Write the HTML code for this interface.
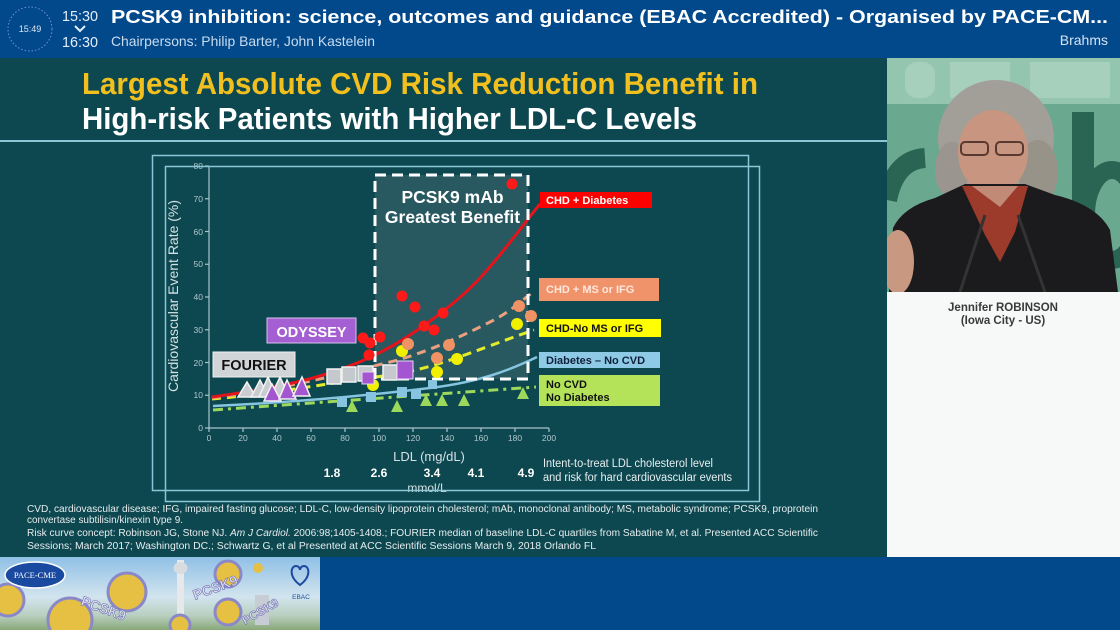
<!DOCTYPE html>
<html><head><meta charset="utf-8"><style>
html,body{margin:0;padding:0;background:#02498c;}
body{width:1120px;height:630px;overflow:hidden;}
svg{display:block;font-family:"Liberation Sans",Arial,sans-serif;}
</style></head><body>
<svg width="1120" height="630" viewBox="0 0 1120 630" xmlns="http://www.w3.org/2000/svg">
<defs>
<linearGradient id="sky" x1="0" y1="0" x2="0" y2="1">
<stop offset="0" stop-color="#8fc0e6"/><stop offset="0.55" stop-color="#d2e4ee"/><stop offset="0.8" stop-color="#b9cfc0"/><stop offset="1" stop-color="#88a878"/>
</linearGradient>
<clipPath id="vid"><rect x="887" y="58" width="233" height="234"/></clipPath>
<clipPath id="ban"><rect x="0" y="557" width="320" height="73"/></clipPath>
</defs>

<!-- bars -->
<rect x="0" y="0" width="1120" height="58" fill="#02498c"/>
<rect x="0" y="557" width="1120" height="73" fill="#02498c"/>
<!-- slide -->
<rect x="0" y="58" width="887" height="499" fill="#0d4850"/>

<!-- top bar content -->
<circle cx="30" cy="29" r="22" fill="none" stroke="#6f95c8" stroke-width="1" stroke-dasharray="1.5,2"/>
<text x="30" y="32" font-size="9" fill="#dbe6f3" text-anchor="middle">15:49</text>
<text x="62" y="21" font-size="15" fill="#e4eef8" textLength="36" lengthAdjust="spacingAndGlyphs">15:30</text>
<polyline points="75,26 80,31 85,26" fill="none" stroke="#e4eef8" stroke-width="2"/>
<text x="62" y="47" font-size="15" fill="#e4eef8" textLength="36" lengthAdjust="spacingAndGlyphs">16:30</text>
<text x="111" y="23" font-size="18" font-weight="bold" fill="#ffffff" textLength="997" lengthAdjust="spacingAndGlyphs">PCSK9 inhibition: science, outcomes and guidance (EBAC Accredited) - Organised by PACE-CM...</text>
<text x="111" y="46" font-size="14" fill="#c9dbef" textLength="264" lengthAdjust="spacingAndGlyphs">Chairpersons: Philip Barter, John Kastelein</text>
<text x="1108" y="45" font-size="14" fill="#d6e2f0" text-anchor="end">Brahms</text>

<!-- slide title -->
<text x="82" y="94" font-size="31" font-weight="bold" fill="#f2c01e" textLength="676" lengthAdjust="spacingAndGlyphs">Largest Absolute CVD Risk Reduction Benefit in</text>
<text x="82" y="129" font-size="31" font-weight="bold" fill="#ffffff" textLength="615" lengthAdjust="spacingAndGlyphs">High-risk Patients with Higher LDL-C Levels</text>
<rect x="0" y="140" width="887" height="2" fill="#8ec6d6"/>

<!-- dashed benefit box fill -->
<rect x="375" y="175" width="153" height="204" fill="#285860"/>

<!-- axes -->
<g stroke="#a9c3cb" stroke-width="1.2">
<line x1="209" y1="166" x2="209" y2="428"/>
<line x1="209" y1="428" x2="549" y2="428"/>
<line x1="205" y1="166" x2="209" y2="166"/><line x1="205" y1="198.75" x2="209" y2="198.75"/><line x1="205" y1="231.5" x2="209" y2="231.5"/><line x1="205" y1="264.25" x2="209" y2="264.25"/><line x1="205" y1="297" x2="209" y2="297"/><line x1="205" y1="329.75" x2="209" y2="329.75"/><line x1="205" y1="362.5" x2="209" y2="362.5"/><line x1="205" y1="395.25" x2="209" y2="395.25"/><line x1="205" y1="428" x2="209" y2="428"/>
<line x1="209" y1="428" x2="209" y2="432"/><line x1="243" y1="428" x2="243" y2="432"/><line x1="277" y1="428" x2="277" y2="432"/><line x1="311" y1="428" x2="311" y2="432"/><line x1="345" y1="428" x2="345" y2="432"/><line x1="379" y1="428" x2="379" y2="432"/><line x1="413" y1="428" x2="413" y2="432"/><line x1="447" y1="428" x2="447" y2="432"/><line x1="481" y1="428" x2="481" y2="432"/><line x1="515" y1="428" x2="515" y2="432"/><line x1="549" y1="428" x2="549" y2="432"/>
</g>
<g font-size="8.5" fill="#b3c6cc" text-anchor="end">
<text x="203" y="169">80</text><text x="203" y="202">70</text><text x="203" y="235">60</text><text x="203" y="267">50</text><text x="203" y="300">40</text><text x="203" y="333">30</text><text x="203" y="366">20</text><text x="203" y="398">10</text><text x="203" y="431">0</text>
</g>
<g font-size="8.5" fill="#b3c6cc" text-anchor="middle">
<text x="209" y="441">0</text><text x="243" y="441">20</text><text x="277" y="441">40</text><text x="311" y="441">60</text><text x="345" y="441">80</text><text x="379" y="441">100</text><text x="413" y="441">120</text><text x="447" y="441">140</text><text x="481" y="441">160</text><text x="515" y="441">180</text><text x="549" y="441">200</text>
</g>
<text transform="translate(178,296) rotate(-90)" font-size="14" fill="#d4e0e3" text-anchor="middle" textLength="192" lengthAdjust="spacingAndGlyphs">Cardiovascular Event Rate (%)</text>
<text x="429" y="461" font-size="13" fill="#d4e0e3" text-anchor="middle">LDL (mg/dL)</text>
<g font-size="12" font-weight="bold" fill="#ffffff" text-anchor="middle">
<text x="332" y="477">1.8</text><text x="379" y="477">2.6</text><text x="432" y="477">3.4</text><text x="476" y="477">4.1</text><text x="526" y="477">4.9</text>
</g>
<text x="427" y="492" font-size="12" fill="#d4e0e3" text-anchor="middle">mmol/L</text>
<text x="543" y="467" font-size="11.5" fill="#e6eef0" textLength="170" lengthAdjust="spacingAndGlyphs">Intent-to-treat LDL cholesterol level</text>
<text x="543" y="481" font-size="11.5" fill="#e6eef0" textLength="189" lengthAdjust="spacingAndGlyphs">and risk for hard cardiovascular events</text>

<!-- outer frames -->
<rect x="152.5" y="155.5" width="596" height="335" fill="none" stroke="#8cc6d6" stroke-width="1.5"/>
<rect x="165.5" y="166.5" width="594" height="335" fill="none" stroke="#8cc6d6" stroke-width="1.5"/>

<!-- curves -->
<path d="M213,410 L536,387" fill="none" stroke="#9cd85c" stroke-width="3" stroke-dasharray="10,5,3,5"/>
<path d="M213,406 C300,402 380,394 430,388 S510,370 537,357" fill="none" stroke="#86c4e0" stroke-width="2.5"/>
<path d="M212,399 C270,394 330,383 383,376 S470,352 534,330" fill="none" stroke="#e2ec2a" stroke-width="3" stroke-dasharray="9,6"/>
<path d="M212,398 C290,388 350,372 390,362 S470,332 490,322 S520,302 533,292" fill="none" stroke="#e8a080" stroke-width="3" stroke-dasharray="9,6"/>
<path d="M212,397 C300,385 340,372 375,355 S455,305 480,278 S525,222 540,204" fill="none" stroke="#e3141c" stroke-width="3"/>

<!-- dashed box outline -->
<rect x="375" y="175" width="153" height="204" fill="none" stroke="#ffffff" stroke-width="3" stroke-dasharray="11,6"/>
<text x="452.5" y="203" font-size="17.5" font-weight="bold" fill="#ffffff" text-anchor="middle">PCSK9 mAb</text>
<text x="452.5" y="223" font-size="17.5" font-weight="bold" fill="#ffffff" text-anchor="middle">Greatest Benefit</text>

<!-- FOURIER gray triangles -->
<g fill="#c9cdd1" stroke="#f2f2f2" stroke-width="1.5">
<polygon points="238,397 256,397 247,382"/>
<polygon points="251,397 269,397 260,380"/>
<polygon points="259,397 277,397 268,377"/>
<polygon points="271,396 289,396 280,377"/>
</g>
<g fill="#a455d0" stroke="#f2f2f2" stroke-width="1.5">
<polygon points="264,401 281,401 272,384"/>
<polygon points="279,399 296,399 287,380"/>
<polygon points="293,396 310,396 302,377"/>
</g>
<!-- green triangles -->
<g fill="#9cd85c">
<polygon points="346,412 358,412 352,400"/>
<polygon points="391,412 403,412 397,400"/>
<polygon points="420,406 432,406 426,394"/>
<polygon points="436,406 448,406 442,394"/>
<polygon points="458,406 470,406 464,394"/>
<polygon points="517,399 529,399 523,387"/>
</g>
<!-- light blue squares -->
<g fill="#86c4e0">
<rect x="337" y="397" width="10" height="10"/>
<rect x="366" y="392" width="10" height="10"/>
<rect x="397" y="387" width="10" height="10"/>
<rect x="411" y="389" width="10" height="10"/>
<rect x="428" y="380" width="9" height="9"/>
</g>
<!-- yellow circles -->
<g fill="#f0f000">
<circle cx="402" cy="351" r="6"/><circle cx="457" cy="359" r="6"/><circle cx="437" cy="372" r="6"/><circle cx="373" cy="385" r="6"/><circle cx="517" cy="324" r="6"/>
</g>
<!-- salmon circles -->
<g fill="#ef9264">
<circle cx="408" cy="344" r="6"/><circle cx="449" cy="345" r="6"/><circle cx="437" cy="358" r="6"/><circle cx="519" cy="306" r="6"/><circle cx="531" cy="316" r="6"/>
</g>
<!-- gray squares -->
<g fill="#c5c9cd" stroke="#f2f2f2" stroke-width="1.5">
<rect x="327" y="369" width="14" height="15"/>
<rect x="342" y="367" width="14" height="15"/>
<rect x="358" y="366" width="15" height="15"/>
<rect x="383" y="365" width="14" height="15"/>
</g>
<g fill="#a455d0" stroke="#e8d8f0" stroke-width="1">
<rect x="362" y="372" width="12" height="12"/>
<rect x="397" y="361" width="16" height="18"/>
</g>
<!-- red circles -->
<g fill="#ff1a1a">
<circle cx="402" cy="296" r="5.5"/><circle cx="415" cy="307" r="5.5"/><circle cx="443" cy="313" r="5.5"/><circle cx="424" cy="326" r="5.5"/><circle cx="434" cy="330" r="5.5"/><circle cx="363" cy="338" r="5.5"/><circle cx="370" cy="343" r="5.5"/><circle cx="380" cy="337" r="5.5"/><circle cx="369" cy="355" r="5.5"/><circle cx="512" cy="184" r="5.5"/>
</g>

<!-- study labels -->
<rect x="267" y="318" width="89" height="25" fill="#a45fd2" stroke="#d8c0ea" stroke-width="1"/>
<text x="311.5" y="337" font-size="14.5" font-weight="bold" fill="#ffffff" text-anchor="middle">ODYSSEY</text>
<rect x="213" y="352" width="82" height="25" fill="#d2d5d8" stroke="#f0f0f0" stroke-width="1"/>
<text x="254" y="370" font-size="14.5" font-weight="bold" fill="#111111" text-anchor="middle">FOURIER</text>

<!-- legend boxes -->
<rect x="540" y="192" width="112" height="16" fill="#ff0000"/>
<text x="546" y="204" font-size="11" font-weight="bold" fill="#ffffff">CHD + Diabetes</text>
<rect x="539" y="278" width="120" height="23" fill="#f0926a"/>
<text x="546" y="293" font-size="11" font-weight="bold" fill="#fde8de">CHD + MS or IFG</text>
<rect x="539" y="319" width="122" height="18" fill="#ffff00"/>
<text x="546" y="332" font-size="11" font-weight="bold" fill="#111111">CHD-No MS or IFG</text>
<rect x="539" y="352" width="121" height="16" fill="#8ecae6"/>
<text x="546" y="364" font-size="11" font-weight="bold" fill="#10203a">Diabetes – No CVD</text>
<rect x="539" y="375" width="121" height="31" fill="#b4e35a"/>
<text x="546" y="388" font-size="11" font-weight="bold" fill="#111111">No CVD</text>
<text x="546" y="401" font-size="11" font-weight="bold" fill="#111111">No Diabetes</text>

<!-- footnotes -->
<g font-size="10" fill="#e6ecee">
<text x="27" y="512" textLength="791" lengthAdjust="spacingAndGlyphs">CVD, cardiovascular disease; IFG, impaired fasting glucose; LDL-C, low-density lipoprotein cholesterol; mAb, monoclonal antibody; MS, metabolic syndrome; PCSK9, proprotein</text>
<text x="27" y="523" textLength="156" lengthAdjust="spacingAndGlyphs">convertase subtilisin/kinexin type 9.</text>
<text x="27" y="536" textLength="791" lengthAdjust="spacingAndGlyphs">Risk curve concept: Robinson JG, Stone NJ. <tspan font-style="italic">Am J Cardiol.</tspan> 2006:98;1405-1408.; FOURIER median of baseline LDL-C quartiles from Sabatine M, et al. Presented ACC Scientific</text>
<text x="27" y="549" textLength="569" lengthAdjust="spacingAndGlyphs">Sessions;  March  2017;  Washington DC.; Schwartz G, et al  Presented at ACC  Scientific Sessions March 9, 2018 Orlando FL</text>
</g>

<!-- video panel -->
<g clip-path="url(#vid)">
<rect x="887" y="58" width="233" height="234" fill="#6aa890"/>
<rect x="887" y="58" width="233" height="46" fill="#94c5ae"/>
<rect x="905" y="62" width="30" height="36" rx="12" fill="#a6cfbc"/>
<rect x="950" y="62" width="60" height="36" fill="#a6cfbc"/>
<rect x="1030" y="62" width="80" height="36" fill="#a6cfbc"/>
<path d="M887,200 Q895,160 925,158" fill="none" stroke="#2a6452" stroke-width="20"/>
<rect x="1072" y="112" width="22" height="180" fill="#2a6452"/>
<ellipse cx="1112" cy="215" rx="26" ry="45" fill="none" stroke="#2a6452" stroke-width="18"/>
<ellipse cx="996" cy="138" rx="58" ry="58" fill="#a29e98"/>
<ellipse cx="1038" cy="172" rx="20" ry="32" fill="#989389"/>
<ellipse cx="952" cy="170" rx="17" ry="28" fill="#9a958e"/>
<ellipse cx="993" cy="152" rx="35" ry="42" fill="#c89680"/>
<rect x="961" y="142" width="27" height="13" rx="4" fill="none" stroke="#5a3a30" stroke-width="2"/>
<rect x="996" y="142" width="27" height="13" rx="4" fill="none" stroke="#5a3a30" stroke-width="2"/>
<path d="M889,292 L893,228 Q903,207 935,198 L965,184 L1025,184 L1055,195 Q1097,205 1110,230 L1118,292 Z" fill="#1b1b1d"/>
<path d="M962,186 L1028,186 L1015,232 L1000,262 L985,235 Z" fill="#9c3a2c"/>
<path d="M972,186 L1018,186 L1000,207 Z" fill="#c08a76"/>
<line x1="960" y1="292" x2="985" y2="215" stroke="#333" stroke-width="3"/>
<line x1="1045" y1="292" x2="1018" y2="215" stroke="#333" stroke-width="3"/>
<ellipse cx="898" cy="262" rx="16" ry="32" fill="#c89880"/>
</g>
<!-- speaker info -->
<rect x="887" y="292" width="233" height="265" fill="#f7f9f8"/>
<text x="1003" y="311" font-size="11.5" font-weight="bold" fill="#3a3a3a" text-anchor="middle">Jennifer ROBINSON</text>
<text x="1003" y="324" font-size="11.5" font-weight="bold" fill="#3a3a3a" text-anchor="middle">(Iowa City - US)</text>

<!-- bottom banner -->
<g clip-path="url(#ban)">
<rect x="0" y="557" width="320" height="73" fill="url(#sky)"/>
<rect x="177" y="560" width="7" height="70" fill="#e6e8ea"/>
<ellipse cx="180.5" cy="568" rx="7" ry="6" fill="#d8dcdf"/>
<rect x="255" y="595" width="14" height="30" fill="#c8ccd4"/>
<g fill="#e6c043" stroke="#8a88c8" stroke-width="3">
<circle cx="8" cy="600" r="16"/>
<circle cx="70" cy="620" r="22"/>
<circle cx="127" cy="592" r="19"/>
<circle cx="228" cy="574" r="13"/>
<circle cx="228" cy="612" r="13"/>
<circle cx="180" cy="625" r="10"/>
</g>
<circle cx="258" cy="568" r="5" fill="#e6c043"/>
<text x="80" y="605" font-size="14" font-weight="bold" fill="#dde0f2" stroke="#7070b0" stroke-width="0.6" transform="rotate(20 80 605)">PCSK9</text>
<text x="195" y="600" font-size="14" font-weight="bold" fill="#dde0f2" stroke="#7070b0" stroke-width="0.6" transform="rotate(-20 195 600)">PCSK9</text>
<text x="245" y="625" font-size="12" font-weight="bold" fill="#dde0f2" stroke="#7070b0" stroke-width="0.6" transform="rotate(-30 245 625)">PCSK9</text>
<ellipse cx="35" cy="575" rx="30" ry="13" fill="#1a4aa0" stroke="#ffffff" stroke-width="1.5"/>
<text x="35" y="578" font-size="8.5" fill="#ffffff" text-anchor="middle" font-family="Liberation Serif, serif">PACE-CME</text>
<path d="M300,585 C288,576 291,566 296,566 C299,566 300,569 300,570 C300,569 301,566 304,566 C309,566 312,576 300,585 Z" fill="none" stroke="#1d4aa0" stroke-width="2"/>
<text x="301" y="599" font-size="6.5" fill="#2050a0" text-anchor="middle">EBAC</text>
</g>
</svg>
</body></html>
